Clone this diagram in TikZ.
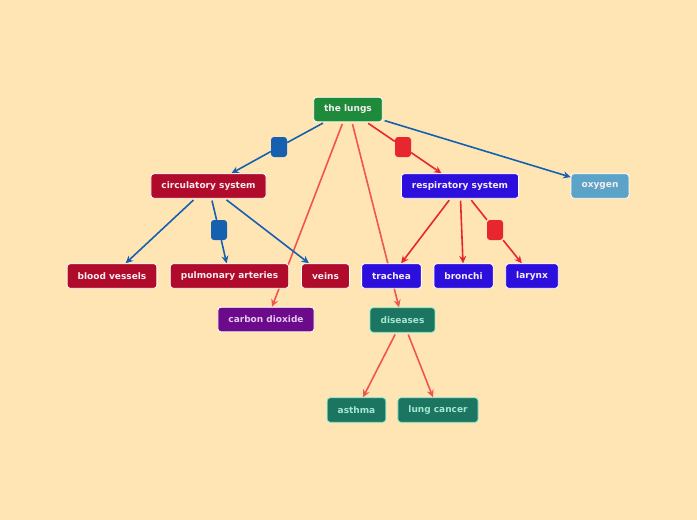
\documentclass[tikz,border=0pt]{standalone}
\usepackage{fontspec}
\setmainfont{DejaVu Sans}
\usetikzlibrary{arrows.meta}
\definecolor{bgc}{HTML}{FFE5B4}
\definecolor{cgreen}{HTML}{1E8B3A}
\definecolor{ccrim}{HTML}{B00B2B}
\definecolor{cblue}{HTML}{2D0FDD}
\definecolor{coxy}{HTML}{5BA4C8}
\definecolor{cpurp}{HTML}{6B0A8A}
\definecolor{cteal}{HTML}{1B7560}
\definecolor{ctealb}{HTML}{7DEBD0}
\definecolor{ctealt}{HTML}{A6E6D2}
\definecolor{cpurpt}{HTML}{E6C8EE}
\definecolor{ltxt}{HTML}{F6ECF0}
\definecolor{eblue}{HTML}{1561B0}
\definecolor{ered}{HTML}{E8262F}
\definecolor{esal}{HTML}{F0564E}
\pgfdeclarelayer{bg}
\pgfsetlayers{bg,main}
\tikzset{
  box/.style={rectangle, rounded corners=3pt, draw=white, line width=0.8pt,
    font=\fontsize{9}{10}\selectfont\bfseries, text=ltxt,
    minimum height=24.5pt, inner xsep=10.5pt, inner ysep=0pt},
  gbox/.style={box, fill=cgreen},
  rbox/.style={box, fill=ccrim},
  bbox/.style={box, fill=cblue},
  obox/.style={box, fill=coxy},
  pbox/.style={box, fill=cpurp, text=cpurpt},
  tbox/.style={box, fill=cteal, draw=ctealb, text=ctealt},
  sqb/.style={rectangle, rounded corners=3pt, fill=eblue, minimum width=16pt, minimum height=20pt, inner sep=0pt},
  sqr/.style={sqb, fill=ered},
  tip/.style={-{Stealth[length=7.5pt,width=7pt]}},
  eb/.style={draw=eblue, line width=1.6pt, shorten <=2pt},
  er/.style={draw=ered, line width=1.6pt, shorten <=2pt},
  es/.style={draw=esal, line width=1.6pt, shorten <=2pt},
}
\begin{document}
\begin{tikzpicture}[x=1pt,y=-1pt]
\begin{pgfonlayer}{bg}
\fill[bgc] (0,0) rectangle (697,520);
\end{pgfonlayer}
\useasboundingbox (0,0) rectangle (697,520);

\node[gbox] (lungs) at (348,109.5) {the lungs};
\node[rbox] (circ) at (208.5,186) {circulatory system};
\node[bbox] (resp) at (460,186) {respiratory system};
\node[obox] (oxy) at (600,186) {oxygen};
\node[rbox] (bv) at (112,276) {blood vessels};
\node[rbox] (pa) at (229.5,276) {pulmonary arteries};
\node[rbox] (veins) at (325.5,276) {veins};
\node[bbox] (trach) at (391.5,276) {trachea};
\node[bbox] (bron) at (463.5,276) {bronchi};
\node[bbox] (lar) at (532,276) {larynx};
\node[pbox] (cd) at (266,319.5) {carbon dioxide};
\node[tbox] (dis) at (402.5,320) {diseases};
\node[tbox] (ast) at (356.5,410) {asthma};
\node[tbox] (lc) at (438,410) {lung cancer};

\node[sqb] (s1) at (279,147) {};
\node[sqr] (s2) at (403,147) {};
\node[sqb] (s3) at (219,230) {};
\node[sqr] (s4) at (495,230) {};

\begin{pgfonlayer}{bg}
\draw[eb] (lungs) -- (s1);
\draw[eb,tip,shorten <=0pt] (s1) -- (circ);
\draw[er] (lungs) -- (s2);
\draw[er,tip,shorten <=0pt] (s2) -- (resp);
\draw[eb,tip] (lungs) -- (oxy);
\draw[es,tip] ([xshift=-5pt]lungs.south) -- ([xshift=6pt]cd.north);
\draw[es,tip] ([xshift=4pt]lungs.south) -- ([xshift=-3.5pt]dis.north);
\draw[eb,tip] (circ) -- (bv);
\draw[eb] (circ) -- (s3);
\draw[eb,tip,shorten <=0pt] (s3) -- (pa);
\draw[eb,tip] (circ) -- (veins);
\draw[er,tip] (resp) -- (trach);
\draw[er,tip] (resp) -- (bron);
\draw[er] (resp) -- (s4);
\draw[er,tip,shorten <=0pt] (s4) -- (lar);
\draw[es,tip] (dis) -- (ast);
\draw[es,tip] (dis) -- (lc);
\end{pgfonlayer}
\end{tikzpicture}
\end{document}
